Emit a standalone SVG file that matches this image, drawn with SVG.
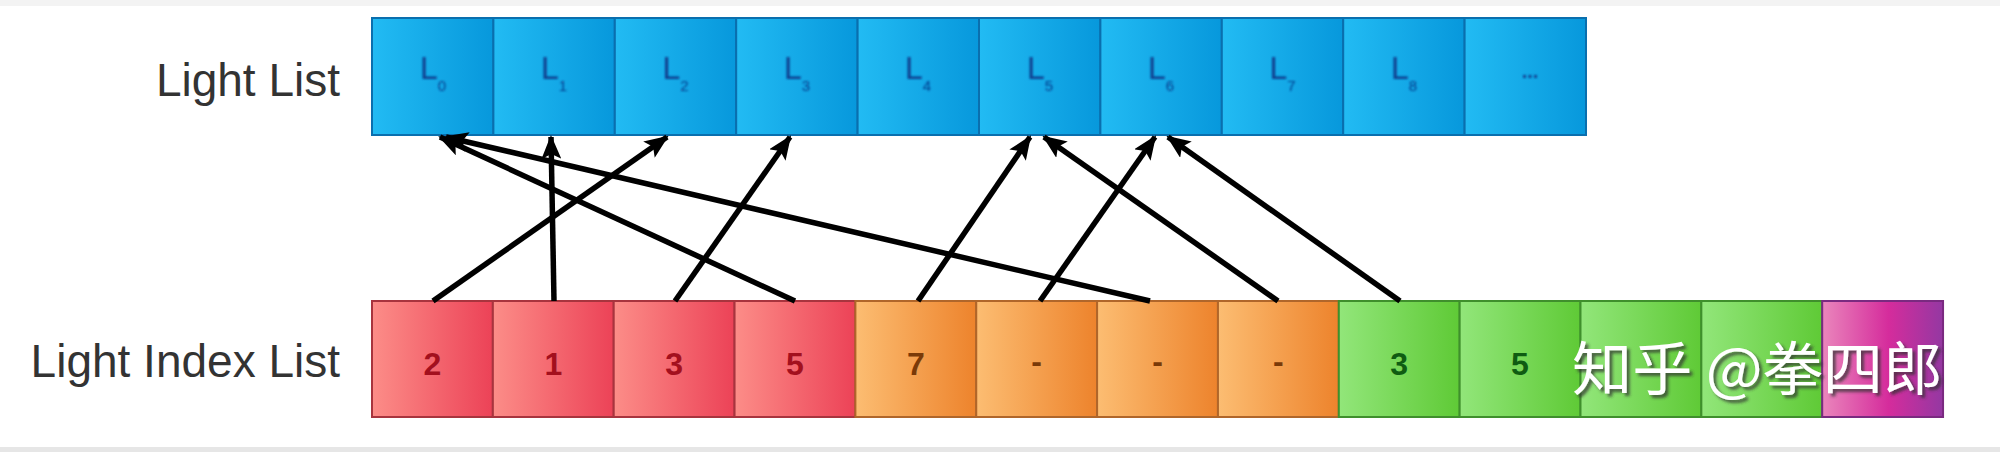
<svg xmlns="http://www.w3.org/2000/svg" width="2000" height="452" viewBox="0 0 2000 452">
<defs>
<linearGradient id="gBlue" x1="0" y1="0" x2="1" y2="0"><stop offset="0" stop-color="#22bbf3"/><stop offset="1" stop-color="#0798dc"/></linearGradient>
<linearGradient id="gRed" x1="0" y1="0" x2="1" y2="0"><stop offset="0" stop-color="#fc8d88"/><stop offset="1" stop-color="#ec4257"/></linearGradient>
<linearGradient id="gOrange" x1="0" y1="0" x2="1" y2="0"><stop offset="0" stop-color="#fcbd72"/><stop offset="1" stop-color="#ed832c"/></linearGradient>
<linearGradient id="gGreen" x1="0" y1="0" x2="1" y2="0"><stop offset="0" stop-color="#92e67a"/><stop offset="1" stop-color="#5fca36"/></linearGradient>
<linearGradient id="gMag" x1="0" y1="0" x2="1" y2="0"><stop offset="0" stop-color="#ea86bc"/><stop offset="0.55" stop-color="#d52c9c"/><stop offset="1" stop-color="#9438a2"/></linearGradient>
<marker id="ah" markerWidth="24" markerHeight="20" refX="22" refY="10" orient="auto" markerUnits="userSpaceOnUse"><path d="M0,0 L24,10 L0,20 L5,10 Z" fill="#000"/></marker>
<filter id="ws" x="-10%" y="-20%" width="120%" height="150%"><feDropShadow dx="3" dy="3" stdDeviation="1.5" flood-color="#333" flood-opacity="0.75"/></filter>
<filter id="soft" x="-10%" y="-10%" width="120%" height="120%"><feGaussianBlur stdDeviation="0.8"/></filter>
</defs>
<style>
.lbl{font-family:"Liberation Sans","Open Sans",sans-serif;font-size:46px;fill:#333;text-anchor:end}
.tc{stroke:#0a6fae;stroke-width:2}
.rc{stroke:#a8343e;stroke-width:2}
.oc{stroke:#b0662a;stroke-width:2}
.gc{stroke:#3f8f2c;stroke-width:2}
.mc{stroke:#7a2a80;stroke-width:2}
.lt{font-family:"Liberation Sans",sans-serif;font-size:32px;fill:#0c3c8c;text-anchor:middle}
.sub{font-size:15px}
.num{font-family:"Liberation Sans",sans-serif;font-size:32px;font-weight:bold;text-anchor:middle}
.red{fill:#a3101e}.org{fill:#7a3a08}.grn{fill:#0f5c12}
.arr{stroke:#000;stroke-width:5.5;fill:none;marker-end:url(#ah)}
.wm{font-family:"Noto Sans CJK SC","Liberation Sans",sans-serif;font-size:58px;fill:#fff}
</style>
<rect width="2000" height="452" fill="#fff"/>
<rect x="0" y="0" width="2000" height="6" fill="#f3f3f3"/>
<rect x="0" y="447" width="2000" height="5" fill="#e6e6e6"/>

<g id="label-light-list"><text class="lbl" x="340" y="96">Light List</text></g>
<g id="label-light-index-list"><text class="lbl" x="340" y="377">Light Index List</text></g>

<g id="light-list">
<g id="L0"><rect class="tc" x="372" y="18" width="121.4" height="117" fill="url(#gBlue)"/><text class="lt" x="433" y="79" filter="url(#soft)">L<tspan class="sub" dy="12">0</tspan></text></g>
<g id="L1"><rect class="tc" x="493.4" y="18" width="121.4" height="117" fill="url(#gBlue)"/><text class="lt" x="554" y="79" filter="url(#soft)">L<tspan class="sub" dy="12">1</tspan></text></g>
<g id="L2"><rect class="tc" x="614.8" y="18" width="121.4" height="117" fill="url(#gBlue)"/><text class="lt" x="675.5" y="79" filter="url(#soft)">L<tspan class="sub" dy="12">2</tspan></text></g>
<g id="L3"><rect class="tc" x="736.2" y="18" width="121.4" height="117" fill="url(#gBlue)"/><text class="lt" x="797" y="79" filter="url(#soft)">L<tspan class="sub" dy="12">3</tspan></text></g>
<g id="L4"><rect class="tc" x="857.6" y="18" width="121.4" height="117" fill="url(#gBlue)"/><text class="lt" x="918" y="79" filter="url(#soft)">L<tspan class="sub" dy="12">4</tspan></text></g>
<g id="L5"><rect class="tc" x="979" y="18" width="121.4" height="117" fill="url(#gBlue)"/><text class="lt" x="1040" y="79" filter="url(#soft)">L<tspan class="sub" dy="12">5</tspan></text></g>
<g id="L6"><rect class="tc" x="1100.4" y="18" width="121.4" height="117" fill="url(#gBlue)"/><text class="lt" x="1161" y="79" filter="url(#soft)">L<tspan class="sub" dy="12">6</tspan></text></g>
<g id="L7"><rect class="tc" x="1221.8" y="18" width="121.4" height="117" fill="url(#gBlue)"/><text class="lt" x="1282.5" y="79" filter="url(#soft)">L<tspan class="sub" dy="12">7</tspan></text></g>
<g id="L8"><rect class="tc" x="1343.2" y="18" width="121.4" height="117" fill="url(#gBlue)"/><text class="lt" x="1404" y="79" filter="url(#soft)">L<tspan class="sub" dy="12">8</tspan></text></g>
<g id="Lmore"><rect class="tc" x="1464.6" y="18" width="121.4" height="117" fill="url(#gBlue)"/><text class="lt" x="1530" y="78" style="font-size:20px;font-weight:bold" filter="url(#soft)">...</text></g>
</g>

<g id="light-index-list">
<g id="i0"><rect class="rc" x="372" y="301" width="120.85" height="116" fill="url(#gRed)"/><text class="num red" x="432.4" y="375">2</text></g>
<g id="i1"><rect class="rc" x="492.85" y="301" width="120.85" height="116" fill="url(#gRed)"/><text class="num red" x="553.3" y="375">1</text></g>
<g id="i2"><rect class="rc" x="613.7" y="301" width="120.85" height="116" fill="url(#gRed)"/><text class="num red" x="674.1" y="375">3</text></g>
<g id="i3"><rect class="rc" x="734.55" y="301" width="120.85" height="116" fill="url(#gRed)"/><text class="num red" x="795" y="375">5</text></g>
<g id="i4"><rect class="oc" x="855.4" y="301" width="120.85" height="116" fill="url(#gOrange)"/><text class="num org" x="915.8" y="375">7</text></g>
<g id="i5"><rect class="oc" x="976.25" y="301" width="120.85" height="116" fill="url(#gOrange)"/><text class="num org" x="1036.6" y="372">-</text></g>
<g id="i6"><rect class="oc" x="1097.1" y="301" width="120.85" height="116" fill="url(#gOrange)"/><text class="num org" x="1157.5" y="372">-</text></g>
<g id="i7"><rect class="oc" x="1217.95" y="301" width="120.85" height="116" fill="url(#gOrange)"/><text class="num org" x="1278.3" y="372">-</text></g>
<g id="i8"><rect class="gc" x="1338.8" y="301" width="120.85" height="116" fill="url(#gGreen)"/><text class="num grn" x="1399.2" y="375">3</text></g>
<g id="i9"><rect class="gc" x="1459.65" y="301" width="120.85" height="116" fill="url(#gGreen)"/><text class="num grn" x="1520" y="375">5</text></g>
<g id="i10"><rect class="gc" x="1580.5" y="301" width="120.85" height="116" fill="url(#gGreen)"/></g>
<g id="i11"><rect class="gc" x="1701.35" y="301" width="120.85" height="116" fill="url(#gGreen)"/></g>
<g id="i12"><rect class="mc" x="1822.2" y="301" width="120.85" height="116" fill="url(#gMag)"/></g>
</g>

<g id="connectors">
<line class="arr" x1="433" y1="301" x2="667" y2="137"/>
<line class="arr" x1="554" y1="301" x2="551" y2="137"/>
<line class="arr" x1="675" y1="301" x2="790" y2="137"/>
<line class="arr" x1="795" y1="301" x2="440" y2="137"/>
<line class="arr" x1="918" y1="301" x2="1030" y2="137"/>
<line class="arr" x1="1040" y1="301" x2="1155" y2="137"/>
<line class="arr" x1="1150" y1="301" x2="446" y2="137"/>
<line class="arr" x1="1278" y1="301" x2="1044" y2="137"/>
<line class="arr" x1="1400" y1="301" x2="1168" y2="137"/>
</g>

<g id="watermark"><text class="wm" x="1572" y="390" textLength="371" lengthAdjust="spacingAndGlyphs" filter="url(#ws)">知乎 @拳四郎</text></g>
</svg>
